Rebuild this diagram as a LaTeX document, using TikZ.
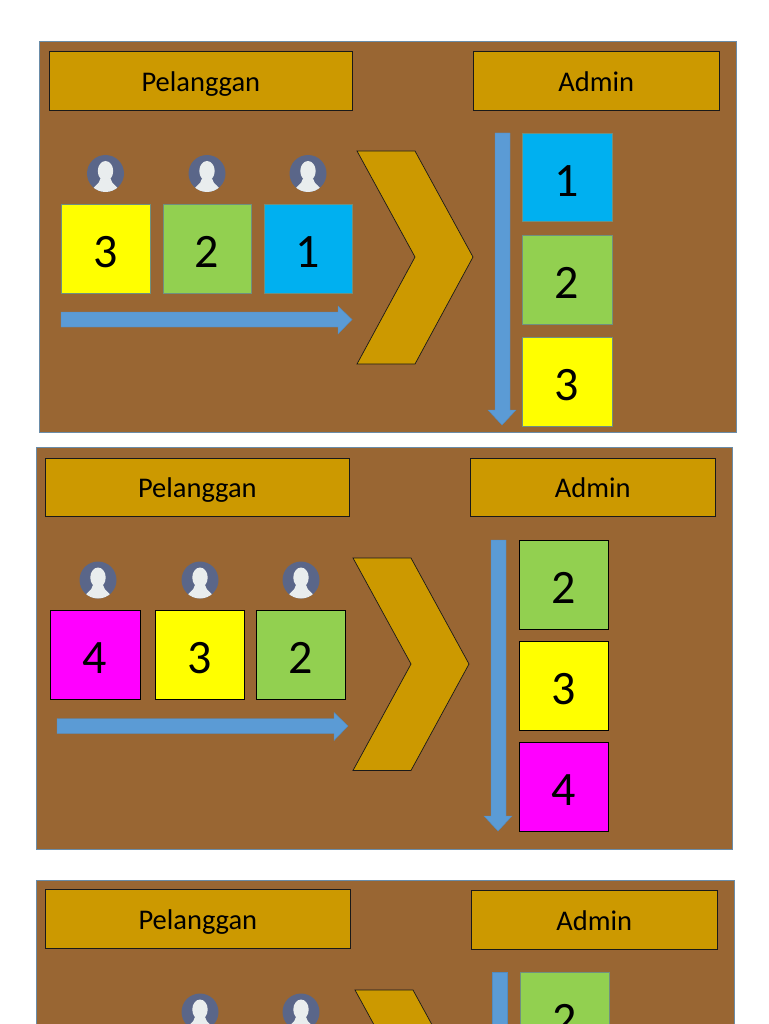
\documentclass[tikz,border=0pt]{standalone}
\usepackage{xcolor}
\usepackage{fontspec}
\setmainfont{Carlito}
\definecolor{panelbrown}{HTML}{996633}
\definecolor{boxgold}{HTML}{CC9900}
\definecolor{arrowblue}{HTML}{5B9BD5}
\definecolor{edgeblue}{HTML}{6A8CA8}
\definecolor{numedge}{HTML}{6F9080}
\definecolor{numgreen}{HTML}{92D050}
\definecolor{numcyan}{HTML}{00B0F0}
\definecolor{numyellow}{HTML}{FFFF00}
\definecolor{nummagenta}{HTML}{FF00FF}
\definecolor{facegray}{HTML}{5A6689}
\definecolor{bodywhite}{HTML}{E9EDEE}
\tikzset{
  panel/.style={draw=edgeblue, fill=panelbrown, line width=0.8pt},
  titlebox/.style={draw=black!90, fill=boxgold, line width=0.7pt, anchor=north west, inner sep=0pt, text height=22pt, text depth=1pt, font=\fontsize{28.5}{28.5}\selectfont},
  numbox/.style={draw=#1, line width=0.7pt, minimum width=88.5pt, minimum height=88.5pt, inner sep=0pt, anchor=north west, text height=38pt, text depth=0pt, font=\fontsize{48}{48}\selectfont},
  blockarrow/.style={fill=arrowblue, draw=arrowblue!90!black, line width=0.4pt},
  chevronshape/.style={fill=boxgold, draw=black!90, line width=0.7pt},
  person/.pic={
    \fill[facegray] (0,0) circle (18.5);
    \begin{scope}
      \clip (0,0) circle (18.5);
      \fill[bodywhite] (0,-2.5) ellipse (7.7 and 10);
      \fill[bodywhite] (-14,20) .. controls (-14,12) and (-6,12) .. (-5,5) -- (5,5) .. controls (6,12) and (14,12) .. (14,20) -- cycle;
    \end{scope}
  }
}
\begin{document}
\begin{tikzpicture}[x=1pt, y=-1pt]
\useasboundingbox (0,0) rectangle (768,1024);
\clip (0,0) rectangle (768,1024);

% first panel
\draw[panel] (39,41) rectangle (736.5,432.5);
\node[titlebox, minimum width=303pt, minimum height=59pt] at (49,51) (pelanggan1) {Pelanggan};
\node[titlebox, minimum width=246pt, minimum height=59pt] at (473,51) (admin1) {Admin};
\pic at (105.5,173.5) {person};
\pic at (207,173.5) {person};
\pic at (308,173.5) {person};
\node[numbox=numedge, fill=numyellow] at (61,204) (q3) {3};
\node[numbox=numedge, fill=numgreen] at (162.5,204) (q2) {2};
\node[numbox=numedge, fill=numcyan] at (263.5,204) (q1) {1};
\draw[blockarrow] (61,312) -- (338,312) -- (338,306) -- (352,319.5) -- (338,334) -- (338,327) -- (61,327) -- cycle;
\draw[chevronshape] (357,151) -- (415,151) -- (473,257) -- (415,364) -- (357,364) -- (415,257) -- cycle;
\draw[blockarrow] (495,133) -- (510,133) -- (510,410) -- (516,410) -- (502,425) -- (488,410) -- (495,410) -- cycle;
\node[numbox=numedge, fill=numcyan, minimum width=89.5pt] at (522,133) (a1) {1};
\node[numbox=numedge, fill=numgreen, minimum width=89.5pt] at (522,235) (a2) {2};
\node[numbox=numedge, fill=numyellow, minimum width=89.5pt] at (522,337) (a3) {3};

% second panel
\draw[panel] (36,447) rectangle (732.5,849);
\node[titlebox, minimum width=304pt, minimum height=58pt] at (45,458) (pelanggan2) {Pelanggan};
\node[titlebox, minimum width=245pt, minimum height=58pt] at (470,458) (admin2) {Admin};
\pic at (98,580) {person};
\pic at (200,580) {person};
\pic at (301,580) {person};
\node[numbox=black, fill=nummagenta, minimum width=89.5pt] at (50,610) (r4) {4};
\node[numbox=black, fill=numyellow] at (155,610) (r3) {3};
\node[numbox=black, fill=numgreen] at (256,610) (r2) {2};
\draw[blockarrow] (57,718.5) -- (334,718.5) -- (334,712.5) -- (348,726) -- (334,740.5) -- (334,733.5) -- (57,733.5) -- cycle;
\draw[chevronshape] (353,558) -- (411,558) -- (469,664) -- (411,770.5) -- (353,770.5) -- (411,664) -- cycle;
\draw[blockarrow] (491,540) -- (506,540) -- (506,816) -- (512,816) -- (498,831) -- (484,816) -- (491,816) -- cycle;
\node[numbox=black, fill=numgreen] at (519,540) (b2) {2};
\node[numbox=black, fill=numyellow] at (519,641) (b3) {3};
\node[numbox=black, fill=nummagenta] at (519,742) (b4) {4};

% third panel
\draw[panel] (36,880) rectangle (734,1060);
\node[titlebox, minimum width=305pt, minimum height=59pt] at (45,889) (pelanggan3) {Pelanggan};
\node[titlebox, minimum width=246pt, minimum height=59pt] at (471,890) (admin3) {Admin};
\pic at (200,1012) {person};
\pic at (301,1012) {person};
\draw[chevronshape] (355,990) -- (413,990) -- (471,1096) -- (355,1096) -- (413,1096) -- cycle;
\draw[blockarrow] (492,972) -- (507,972) -- (507,1060) -- (492,1060) -- cycle;
\node[numbox=numedge, fill=numgreen] at (520,972) (c2) {2};

\end{tikzpicture}
\end{document}
